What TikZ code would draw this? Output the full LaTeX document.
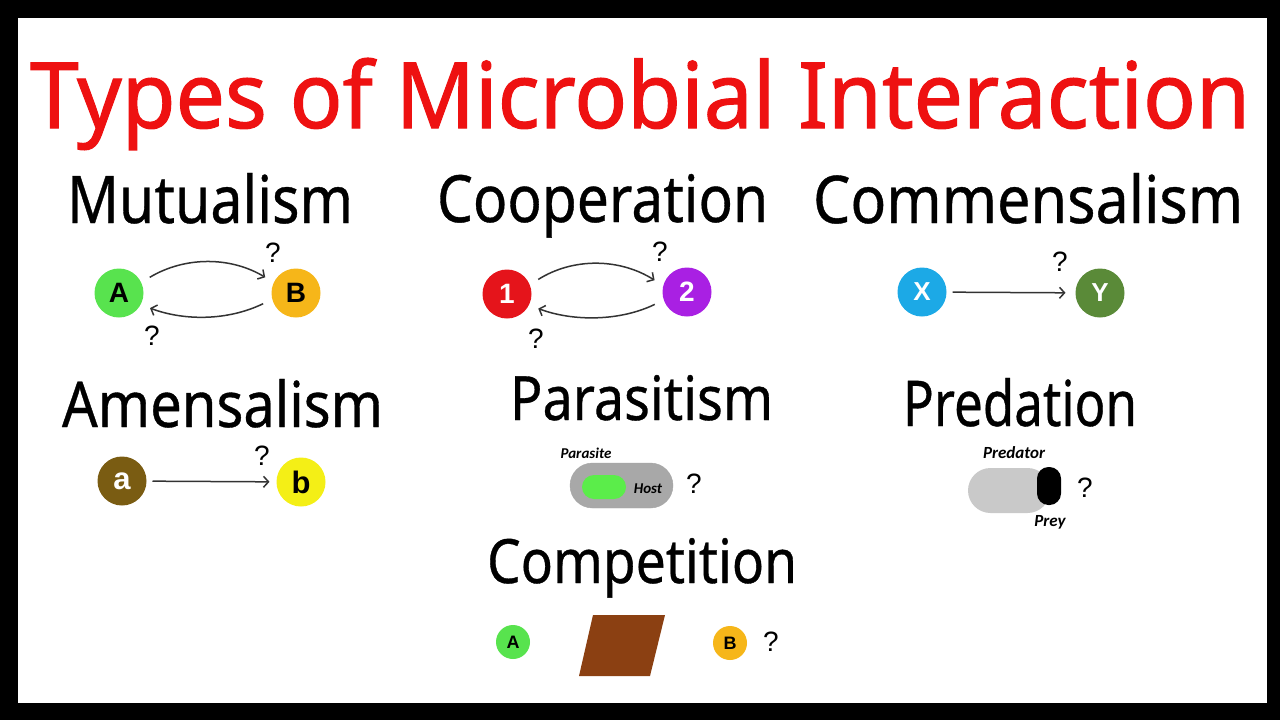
\documentclass[tikz,border=0pt]{standalone}
\usepackage{fontspec}
\usepackage{graphicx}
\usetikzlibrary{arrows.meta}
\newfontfamily\headfont[FakeBold=0.6]{Noto Sans}
\newfontfamily\titlefont[FakeBold=1.2]{Noto Sans}
\newfontfamily\circfont{Liberation Sans}
\newfontfamily\labfont{Carlito}
\definecolor{titlered}{HTML}{EE1111}
\definecolor{cgreen}{HTML}{58E34E}
\definecolor{corange}{HTML}{F6B619}
\definecolor{cred}{HTML}{E5141B}
\definecolor{cpurple}{HTML}{A920E3}
\definecolor{cblue}{HTML}{1CA9E6}
\definecolor{cdkgreen}{HTML}{5A8A38}
\definecolor{cbrown}{HTML}{7A5C12}
\definecolor{cyellow}{HTML}{F4EF16}
\definecolor{pgram}{HTML}{8B4012}
\definecolor{hostgray}{HTML}{A8A8A8}
\definecolor{paragreen}{HTML}{5BED4A}
\definecolor{predgray}{HTML}{C9C9C9}
\newcommand\mkhead[3]{\resizebox{#1pt}{#2pt}{\headfont\bfseries #3}}
\begin{document}
\begin{tikzpicture}[x=1pt,y=-1pt,
  head/.style={anchor=base west, inner sep=0pt, outer sep=0pt},
  circ/.style={circle, minimum size=49pt, inner sep=0pt, outer sep=10pt,
    font=\circfont\bfseries\fontsize{28}{28}\selectfont},
  smallcirc/.style={circle, minimum size=34pt, inner sep=0pt,
    font=\circfont\bfseries\fontsize{18}{18}\selectfont},
  q/.style={inner sep=0pt, font=\circfont\fontsize{28}{28}\selectfont},
  lab/.style={inner sep=0pt, anchor=base, font=\labfont\bfseries\itshape\fontsize{15}{15}\selectfont},
  arr/.style={draw=black!80, line width=1.5pt, -{Straight Barb[length=5pt,width=11pt]}}
]
% frame
\fill[black] (0,0) rectangle (1280,720);
\fill[white] (18,18) rectangle (1267,703);

% title
\node[head, text=titlered] (title) at (30,128) {\resizebox{1220pt}{70pt}{\titlefont\bfseries Types of Microbial Interaction}};

% headings
\node[head] (hmut) at (67,223) {\mkhead{286}{50}{Mutualism}};
\node[head] (hcoop) at (437,222) {\mkhead{331}{48}{Cooperation}};
\node[head] (hcomm) at (813,223) {\mkhead{430}{50}{Commensalism}};
\node[head] (hamen) at (62,427) {\mkhead{321}{48}{Amensalism}};
\node[head] (hpara) at (510,420) {\mkhead{263}{45}{Parasitism}};
\node[head] (hpred) at (903,426) {\mkhead{234}{48}{Predation}};
\node[head] (hcomp) at (487,583) {\mkhead{310}{45}{Competition}};

% Mutualism
\node[circ, fill=cgreen] (A) at (119,293) {A};
\node[circ, fill=corange] (B) at (296,293) {B};
\draw[arr] (A.27) .. controls +(35,-21) and +(-35,-21) .. (B.153);
\draw[arr] (B.198) .. controls +(-35,17) and +(35,13) .. (A.-26);
\node[q] (qmut1) at (273,253) {?};
\node[q] (qmut2) at (152,336) {?};

% Cooperation
\node[circ, fill=cred, text=white] (one) at (507,294) {1};
\node[circ, fill=cpurple, text=white] (two) at (687,292) {2};
\draw[arr] (one.25) .. controls +(35,-22) and +(-35,-22) .. (two.160);
\draw[arr] (two.201) .. controls +(-35,17) and +(35,13) .. (one.-25);
\node[q] (qcoop1) at (660,252) {?};
\node[q] (qcoop2) at (536,339) {?};

% Commensalism
\node[circ, fill=cblue, text=white, outer sep=6pt, font=\circfont\bfseries\fontsize{26}{26}\selectfont] (X) at (922,292) {X};
\node[circ, fill=cdkgreen, text=white, outer sep=10pt, font=\circfont\bfseries\fontsize{26}{26}\selectfont] (Y) at (1100,293) {Y};
\draw[arr] (X) -- (Y);
\node[q] (qcomm) at (1060,262) {?};

% Amensalism
\node[circ, fill=cbrown, text=white, outer sep=6pt, font=\circfont\bfseries\fontsize{31}{31}\selectfont] (a) at (122,481) {a};
\node[circ, fill=cyellow, outer sep=7pt, font=\circfont\bfseries\fontsize{31}{31}\selectfont] (b) at (301,482) {b};
\draw[arr] (a) -- (b);
\node[q] (qamen) at (262,456) {?};

% Parasitism
\draw[draw=black!35, fill=hostgray, rounded corners=22.5pt] (570,463) rectangle (673,508);
\fill[paragreen, rounded corners=12pt] (582,475) rectangle (626,499);
\node[lab] (parasite) at (586,458) {Parasite};
\node[lab] (host) at (648,493) {Host};
\node[q] (qpara) at (694,484) {?};

% Predation
\fill[predgray, rounded corners=22.5pt] (968,468) rectangle (1050,513);
\fill[black, rounded corners=11.5pt] (1037,467) rectangle (1061,505);
\node[lab, font=\labfont\bfseries\itshape\fontsize{17}{17}\selectfont] (predator) at (1014,458) {Predator};
\node[lab, font=\labfont\bfseries\itshape\fontsize{17}{17}\selectfont] (prey) at (1050,526) {Prey};
\node[q] (qpred) at (1085,488) {?};

% Competition
\node[smallcirc, fill=cgreen] (cA) at (513,642) {A};
\fill[pgram] (593,615) -- (665,615) -- (650,676) -- (579,676) -- cycle;
\node[smallcirc, fill=corange] (cB) at (730,643) {B};
\node[q] (qcomp) at (771,642) {?};
\end{tikzpicture}
\end{document}
